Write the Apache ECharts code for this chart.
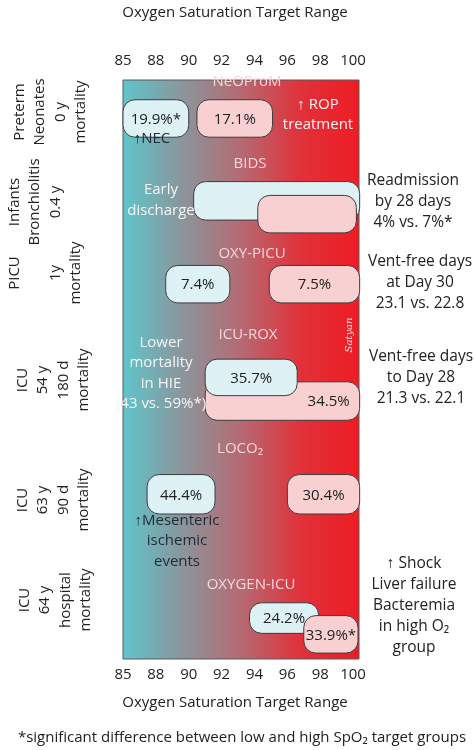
<!DOCTYPE html>
<html>
<head>
<meta charset="utf-8">
<script src="https://cdn.jsdelivr.net/npm/echarts@6/dist/echarts.min.js"></script>
<style>html,body{margin:0;padding:0;background:#fff}#c{width:474px;height:750px}</style>
</head>
<body>
<div id="c"></div>
<script>
// ---- data ----
var tickLabels = [85, 88, 90, 92, 94, 96, 98, 100];
var trials = ['NeOProM', 'BIDS', 'OXY-PICU', 'ICU-ROX', 'LOCO₂', 'OXYGEN-ICU'];
var populations = [
  'Preterm\nNeonates\n0 y\nmortality',
  'Infants\nBronchiolitis\n0.4 y',
  'PICU\n\n1y\nmortality',
  'ICU\n54 y\n180 d\nmortality',
  'ICU\n63 y\n90 d\nmortality',
  'ICU\n64 y\nhospital\nmortality'
];
// SpO2 extents drawn for the low-target and high-target groups
var lowRange  = [[85, 90], [90.3, 100.4], [88.6, 92.5], [91, 96.6], [87.2, 91.6], [93.7, 97.9]];
var highRange = [[90.5, 95.1], [94.2, 100.2], [94.9, 100.4], [91, 100.4], [96, 100.4], [97, 100.3]];
var lowOutcome  = ['19.9%*', '', '7.4%', '35.7%', '44.4%', '24.2%'];
var highOutcome = ['17.1%', '', '7.5%', '34.5%', '30.4%', '33.9%*'];
var secondary = [
  'Readmission\nby 28 days\n4% vs. 7%*',
  'Vent-free days\nat Day 30\n23.1 vs. 22.8',
  'Vent-free days\nto Day 28\n21.3 vs. 22.1',
  '↑ Shock\nLiver failure\nBacteremia\nin high O₂\ngroup'
];

// ---- layout (not data) ----
var FONT = 'Open Sans';
var G = {left: 123, top: 72, width: 236, height: 587};
// vertical placement of pills within plot (pixel units from grid top)
var lowY  = [[20, 58], [103, 142], [188, 226], [283, 320], [400, 440], [530, 561]];
var highY = [[20, 58], [117, 155], [188, 226], [306, 345], [400, 440], [543, 581]];
var lowOnTop = [true, false, true, true, true, false];
var highAlignRight = [false, false, false, true, false, false];

function toAxis(v) {
  var t = tickLabels;
  if (v <= t[0]) return (v - t[0]) / (t[1] - t[0]);
  for (var i = 0; i < t.length - 1; i++) {
    if (v <= t[i + 1]) return i + (v - t[i]) / (t[i + 1] - t[i]);
  }
  var n = t.length - 1;
  return n + (v - t[n]) / (t[n] - t[n - 1]);
}

var pillData = [];
for (var i = 0; i < trials.length; i++) {
  var lo = [toAxis(lowRange[i][0]), toAxis(lowRange[i][1]), lowY[i][0], lowY[i][1], lowOutcome[i], 'low', false];
  var hi = [toAxis(highRange[i][0]), toAxis(highRange[i][1]), highY[i][0], highY[i][1], highOutcome[i], 'high', highAlignRight[i]];
  if (lowOnTop[i]) { pillData.push(hi, lo); } else { pillData.push(lo, hi); }
}

function renderPill(params, api) {
  var d = pillData[params.dataIndex];
  var p0 = api.coord([d[0], d[2]]);
  var p1 = api.coord([d[1], d[3]]);
  var w = p1[0] - p0[0], h = p1[1] - p0[1];
  var fill = d[5] === 'low' ? '#def1f5' : '#f8d0d1';
  var children = [{
    type: 'rect',
    shape: {x: p0[0], y: p0[1], width: w, height: h, r: 12},
    style: {fill: fill, stroke: '#3c3c3c', lineWidth: 1}
  }];
  if (d[4]) {
    children.push({
      type: 'text',
      x: d[6] ? p1[0] - 10 : p0[0] + w / 2,
      y: p0[1] + h / 2 + 1,
      style: {text: d[4], fill: '#222', font: '15px "' + FONT + '"',
              textAlign: d[6] ? 'right' : 'center', textVerticalAlign: 'middle'}
    });
  }
  return {type: 'group', children: children};
}

var titlePos = [[247, 82], [250, 164], [252, 254], [248, 335], [240, 449], [251, 585]];
var leftPos = [[50, 112], [35, 202], [45, 273], [53, 380], [53, 500], [55, 600]];
var rightPos = [[413, 202], [420, 283], [421, 378], [414, 606]];

var graphics = [];
function txt(s, x, y, color, size, lh, extra) {
  var o = {type: 'text', x: x, y: y, z: 100,
    style: {text: s, fill: color, font: size + 'px "' + FONT + '"', textAlign: 'center',
            textVerticalAlign: 'middle', lineHeight: lh || size * 1.3}};
  if (extra) for (var k in extra) o[k] = extra[k];
  graphics.push(o);
}
for (var i = 0; i < trials.length; i++) txt(trials[i], titlePos[i][0], titlePos[i][1], '#f7d6da', 15);
for (var i = 0; i < populations.length; i++) txt(populations[i], leftPos[i][0], leftPos[i][1], '#222', 15, 20.5, {rotation: Math.PI / 2});
for (var i = 0; i < secondary.length; i++) txt(secondary[i], rightPos[i][0], rightPos[i][1], '#222', 15.5, 21);
txt('↑ ROP\ntreatment', 318, 115, '#f6f6f6', 15, 20);
txt('Early\ndischarge', 161, 200, '#f6f6f6', 15, 21);
txt('Lower\nmortality\nin HIE\n(43 vs. 59%*)', 161, 373, '#f6f6f6', 15, 20.5);
txt('↑NEC', 152, 139, '#1d2a38', 15, 20);
txt('↑Mesenteric\nischemic\nevents', 177, 541, '#1d2a38', 15, 20.5);
txt('*significant difference between low and high SpO₂ target groups', 242, 738, '#222', 15);
graphics.push({type: 'text', x: 349, y: 335, z: 100, rotation: Math.PI / 2,
  style: {text: 'Satyan', fill: '#fbe9e9', font: 'italic 10px "DejaVu Serif"', textAlign: 'center', textVerticalAlign: 'middle'}});

var axisCommon = {
  type: 'value', min: 0, max: 7.18, interval: 1,
  axisLine: {show: false}, axisTick: {show: false}, splitLine: {show: false},
  nameLocation: 'middle',
  nameTextStyle: {fontFamily: FONT, fontSize: 15, color: '#222', padding: [0, 12, 0, 0]},
  name: 'Oxygen Saturation Target Range'
};

var chart = echarts.init(document.getElementById('c'), null, {renderer: 'canvas'});
chart.setOption({
  animation: false,
  grid: {
    left: G.left, top: G.top, width: G.width, height: G.height, show: true,
    borderColor: '#5a5a5a', borderWidth: 1,
    backgroundColor: new echarts.graphic.LinearGradient(0, 0, 1, 0, [
      {offset: 0, color: '#5ec6cc'},
      {offset: 0.25, color: '#8a969c'},
      {offset: 0.5, color: '#b56a73'},
      {offset: 0.75, color: '#e1313a'},
      {offset: 1, color: '#ee1c24'}
    ])
  },
  xAxis: [
    Object.assign({}, axisCommon, {position: 'bottom', nameGap: 36,
      axisLabel: {fontFamily: FONT, fontSize: 15, color: '#222', margin: 8,
        formatter: function (v) { return Number.isInteger(v) && v < tickLabels.length ? String(tickLabels[v]) : ''; }}}),
    Object.assign({}, axisCommon, {position: 'top', nameGap: 60,
      axisLabel: {fontFamily: FONT, fontSize: 15, color: '#222', margin: 12,
        formatter: function (v) { return Number.isInteger(v) && v < tickLabels.length ? String(tickLabels[v]) : ''; }}})
  ],
  yAxis: {type: 'value', min: 0, max: G.height, inverse: true, show: false},
  series: [{
    type: 'custom', clip: false, renderItem: renderPill,
    data: pillData.map(function (d) { return [d[0], d[2]]; })
  }],
  graphic: graphics
});
</script>
</body>
</html>
